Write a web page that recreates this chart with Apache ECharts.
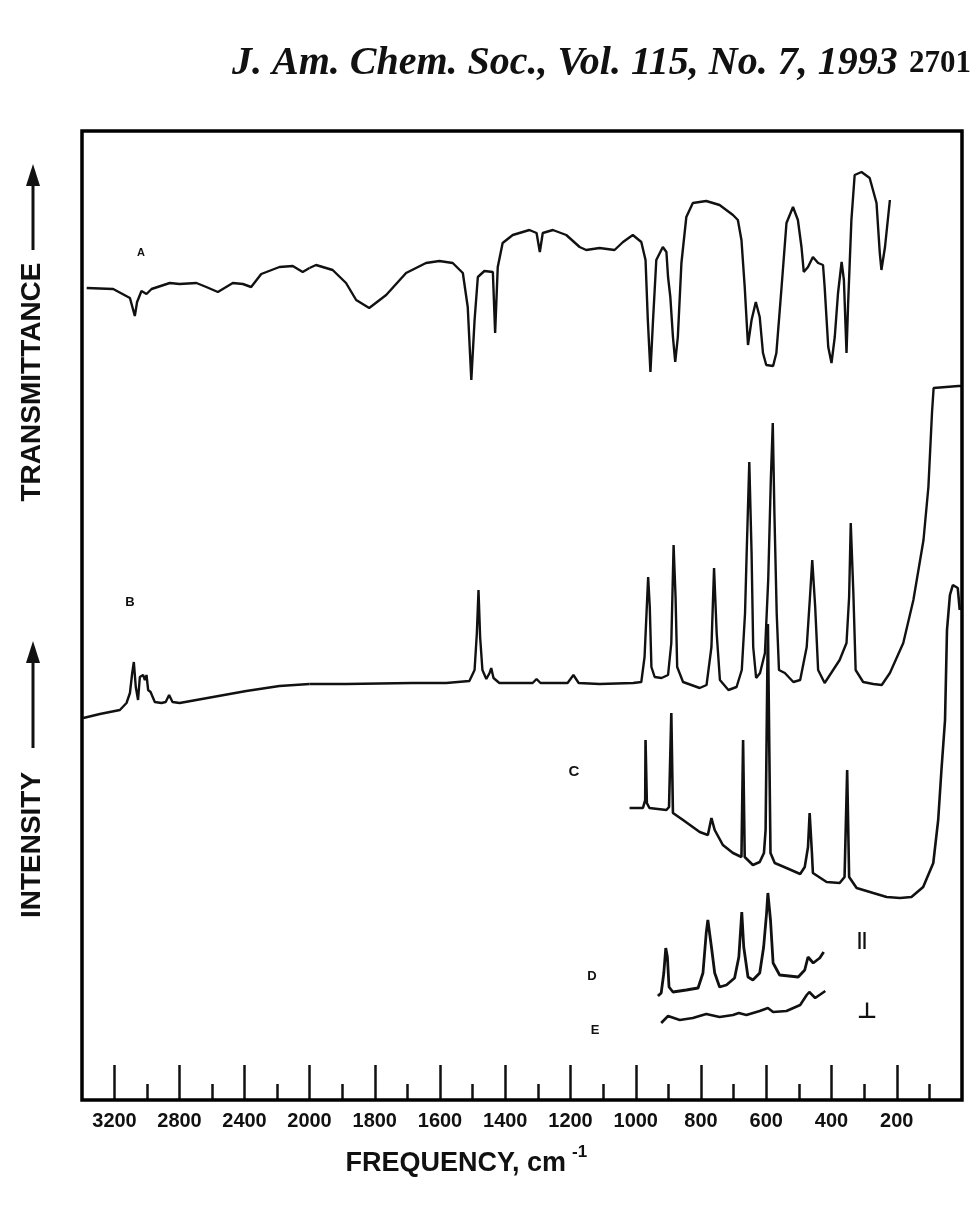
<!DOCTYPE html>
<html>
<head>
<meta charset="utf-8">
<script src="https://cdn.jsdelivr.net/npm/echarts@6/dist/echarts.min.js"></script>
<style>
  html, body { margin: 0; background: #fff; }
  #chart { width: 977px; height: 1206px; }
</style>
</head>
<body>
<div id="chart"></div>
<script>
// frequency axis ticks (cm-1); the scale doubles below 2000
const majorHigh = [3200, 2800, 2400, 2000];
const minorHigh = [3000, 2600, 2200];
const majorLow = [1800, 1600, 1400, 1200, 1000, 800, 600, 400, 200];
const minorLow = [1900, 1700, 1500, 1300, 1100, 900, 700, 500, 300, 100];

// A: IR transmittance
const aWave = [3371,3208,3105,3075,3061,3034,3003,2972,2860,2799,2696,2635,2564,2472,2410,2359,2297,2185,2103,2042,2000,1980,1929,1888,1857,1817,1765,1704,1643,1602,1561,1530,1515,1504,1494,1484,1464,1438,1431,1423,1408,1377,1326,1304,1294,1285,1254,1213,1172,1152,1111,1065,1039,1009,983,970,963,955,947,937,917,906,901,894,886,879,871,860,845,825,784,743,702,687,676,666,656,645,632,620,610,600,579,569,553,538,518,503,492,485,472,457,441,426,421,410,400,390,380,369,362,354,349,339,329,308,283,262,252,247,236,221];
const aVal = [812,811,802,784,798,809,806,811,817,816,817,813,808,817,816,813,826,833,834,828,832,835,830,817,800,792,805,827,837,839,837,827,793,720,780,823,829,828,767,833,857,865,870,867,848,867,870,865,853,850,852,850,858,865,858,840,780,728,780,840,853,848,823,803,763,738,763,837,883,897,899,895,885,880,860,813,755,780,798,783,747,735,734,747,813,877,893,880,853,828,833,843,837,835,813,753,737,763,807,838,820,747,797,880,925,928,922,897,847,830,853,900];

// B: Raman, full range
const bWave = [3392,3290,3167,3126,3105,3091,3081,3069,3055,3044,3024,3013,3003,2993,2978,2952,2911,2885,2864,2843,2799,2594,2389,2185,2000,1990,1888,1684,1581,1510,1494,1487,1482,1477,1470,1458,1448,1443,1436,1418,1326,1316,1304,1292,1209,1191,1175,1111,1008,983,973,962,957,952,942,921,901,891,884,878,873,855,804,783,768,760,752,742,716,691,675,665,660,652,645,640,631,619,604,594,586,580,575,568,561,543,517,496,476,466,459,450,441,421,395,375,354,346,341,333,326,303,272,246,221,180,149,118,103,92,87,82,11,3];
const bVal = [382,386,390,397,407,427,438,413,400,423,425,420,425,410,408,398,397,398,405,398,397,403,409,414,416,416,416,417,417,419,430,467,510,463,430,421,427,432,422,417,417,417,421,417,417,425,417,416,417,418,443,523,493,433,423,422,425,457,555,503,433,418,412,415,453,532,467,420,410,413,430,487,547,638,547,453,422,427,447,520,620,677,587,487,430,427,418,420,453,503,540,493,430,417,430,440,457,503,577,507,430,418,416,415,427,457,500,560,613,687,712,714,714,714];

// C: Raman, low range
const cWave = [1019,978,971,970,966,958,906,898,891,886,855,804,779,768,758,733,702,676,671,666,641,620,607,602,595,587,574,538,496,482,472,467,460,457,415,375,360,352,346,323,272,231,190,155,119,88,73,63,52,46,37,28,13,7];
const cVal = [292,292,300,360,297,292,290,293,387,287,280,268,265,282,270,255,247,243,360,243,235,238,247,270,476,247,237,232,226,233,253,287,247,227,218,217,223,330,223,212,207,203,202,203,213,237,280,330,380,470,505,515,512,490];

// D: parallel polarisation
const dWave = [932,922,914,908,903,898,886,845,809,794,784,779,768,758,743,722,697,684,675,669,656,641,620,608,599,595,587,579,559,502,482,472,456,436,424];
const dVal = [104,107,127,152,143,113,108,110,112,127,167,180,153,127,113,115,122,143,188,153,123,120,127,153,187,207,180,137,125,123,130,143,137,142,148];

// E: perpendicular polarisation
const eWave = [922,901,865,825,784,743,702,684,661,620,595,579,538,496,476,468,450,419];
const eVal = [77,84,80,82,86,83,85,87,85,89,92,88,89,95,105,108,102,109];

function pairs(w, v, lo, hi) {
  const out = [];
  for (let i = 0; i < w.length; i++) {
    if (w[i] >= lo && w[i] <= hi) out.push([w[i], v[i]]);
  }
  return out;
}

const INK = '#111';
const sans = '"Liberation Sans", Arial, sans-serif';
const labelFont = { color: INK, fontFamily: sans, fontWeight: 'bold', fontSize: 20 };

function xAxisDef(grid, min, max, ticks, len, labels) {
  return {
    type: 'value', gridIndex: grid, min, max, inverse: true, position: 'bottom', offset: 0,
    splitLine: { show: false },
    axisLine: { show: false },
    axisTick: { show: true, inside: true, length: len, customValues: ticks, lineStyle: { color: INK, width: 2.5 } },
    axisLabel: labels
      ? Object.assign({ show: true, margin: 11, customValues: ticks, formatter: v => String(v) }, labelFont)
      : { show: false }
  };
}

function line(grid, data, width) {
  return {
    type: 'line', xAxisIndex: grid === 0 ? 0 : 2, yAxisIndex: grid, data,
    showSymbol: false, symbol: 'none', animation: false,
    lineStyle: { color: INK, width: width || 2.4 }
  };
}

function txt(x, y, text, font, extra) {
  return {
    type: 'text', x, y, z: 20,
    style: Object.assign({ text, font, fill: INK, textAlign: 'center', textVerticalAlign: 'middle', align: 'center', verticalAlign: 'middle' }, extra || {})
  };
}

const chart = echarts.init(document.getElementById('chart'), null, { renderer: 'canvas' });

chart.setOption({
  backgroundColor: '#fff',
  animation: false,
  grid: [
    { left: 82, top: 131, width: 227.5, height: 969 },
    { left: 309.5, top: 131, width: 652.5, height: 969 }
  ],
  xAxis: [
    xAxisDef(0, 2000, 3400, majorHigh, 35, true),
    xAxisDef(0, 2000, 3400, minorHigh, 16, false),
    xAxisDef(1, 0, 2000, majorLow, 35, true),
    xAxisDef(1, 0, 2000, minorLow, 16, false)
  ],
  yAxis: [
    { type: 'value', gridIndex: 0, min: 0, max: 969, show: false },
    { type: 'value', gridIndex: 1, min: 0, max: 969, show: false }
  ],
  series: [
    line(0, pairs(aWave, aVal, 2000, 4000)),
    line(1, pairs(aWave, aVal, 0, 2000)),
    line(0, pairs(bWave, bVal, 2000, 4000)),
    line(1, pairs(bWave, bVal, 0, 2000)),
    line(1, pairs(cWave, cVal, 0, 2000), 2.6),
    line(1, pairs(dWave, dVal, 0, 2000), 2.8),
    line(1, pairs(eWave, eVal, 0, 2000), 2.6)
  ],
  graphic: [
    { type: 'rect', z: 15, shape: { x: 82, y: 131, width: 880, height: 969 },
      style: { fill: 'none', stroke: '#000', lineWidth: 3.5 } },
    txt(232, 64, 'J. Am. Chem. Soc., Vol. 115, No. 7, 1993', 'italic bold 40px "Liberation Serif", serif',
      { textAlign: 'left', align: 'left' }),
    txt(971, 64, '2701', 'bold 31px "Liberation Serif", serif', { textAlign: 'right', align: 'right' }),
    // axis titles
    txt(566, 1164, 'FREQUENCY, cm', 'bold 27px ' + sans, { textAlign: 'right', align: 'right' }),
    txt(572, 1152, '-1', 'bold 17px ' + sans, { textAlign: 'left', align: 'left' }),
    Object.assign(txt(32, 382, 'TRANSMITTANCE', 'bold 28px ' + sans), { rotation: Math.PI / 2 }),
    { type: 'line', z: 20, shape: { x1: 33, y1: 250, x2: 33, y2: 182 }, style: { stroke: INK, lineWidth: 3 } },
    { type: 'polygon', z: 20, shape: { points: [[33, 164], [26, 186], [40, 186]] }, style: { fill: INK } },
    Object.assign(txt(32, 845, 'INTENSITY', 'bold 28px ' + sans), { rotation: Math.PI / 2 }),
    { type: 'line', z: 20, shape: { x1: 33, y1: 748, x2: 33, y2: 660 }, style: { stroke: INK, lineWidth: 3 } },
    { type: 'polygon', z: 20, shape: { points: [[33, 641], [26, 663], [40, 663]] }, style: { fill: INK } },
    // spectrum letters and polarisation marks
    txt(141, 253, 'A', 'bold 11px ' + sans),
    txt(130, 602, 'B', 'bold 13px ' + sans),
    txt(574, 772, 'C', 'bold 15px ' + sans),
    txt(592, 976, 'D', 'bold 13px ' + sans),
    txt(595, 1030, 'E', 'bold 13px ' + sans),
    txt(862, 940, '||', 'bold 18px ' + sans),
    txt(867, 1012, '\u22A5', 'bold 22px "DejaVu Sans", sans-serif')
  ]
});
</script>
</body>
</html>
